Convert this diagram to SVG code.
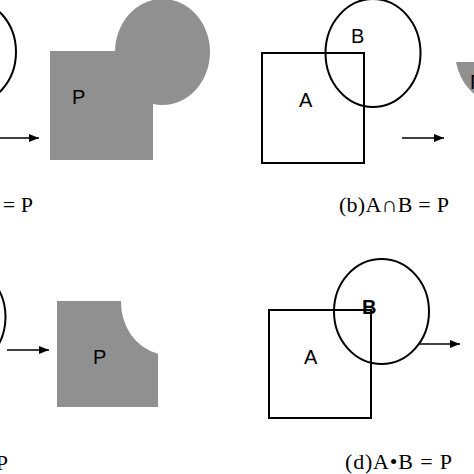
<svg xmlns="http://www.w3.org/2000/svg" width="474" height="474" viewBox="0 0 474 474">
<defs>
<marker id="ah" viewBox="0 0 10 8" refX="10" refY="4" markerWidth="10" markerHeight="8" markerUnits="userSpaceOnUse" orient="auto">
<path d="M0,0 L10,4 L0,8 Z" fill="#000"/>
</marker>
<style>
.outline{fill:none;stroke:#000;stroke-width:2}
.gray{fill:#909090;stroke:none}
.lbl{font-family:"Liberation Sans",Arial,sans-serif;font-size:20px;fill:#000}
.cap{font-family:"Liberation Serif","DejaVu Serif",serif;font-size:22px;fill:#000}
.arrow{stroke:#000;stroke-width:1.6;fill:none;marker-end:url(#ah)}
</style>
</defs>
<rect width="474" height="474" fill="#fff"/>

<g id="panel-a">
<ellipse class="outline" cx="-31.5" cy="52" rx="47.5" ry="53"/>
<g id="result-a">
<rect class="gray" x="50" y="51" width="103" height="109"/>
<ellipse class="gray" cx="162.5" cy="52" rx="47.5" ry="53"/>
<text class="lbl" x="72" y="104">P</text>
</g>
<text class="cap" x="33" y="212" text-anchor="end">= P</text>
</g>

<g id="panel-b">
<rect id="b-A" class="outline" x="262" y="53" width="102" height="110"/>
<ellipse id="b-B" class="outline" cx="373" cy="53" rx="47.5" ry="54"/>
<text class="lbl" x="351" y="43">B</text>
<text class="lbl" x="299" y="107">A</text>
<g id="result-b">
<path class="gray" d="M456,62 L495,62 L495,104 A47.5,54 0 0 1 456,62 Z"/>
<text class="lbl" x="470" y="89">P</text>
</g>
<text class="cap" x="339" y="212" textLength="110" lengthAdjust="spacing">(b)A∩B = P</text>
</g>

<g id="panel-c">
<ellipse class="outline" cx="-42" cy="317" rx="47.5" ry="52.5"/>
<g id="result-c">
<path class="gray" d="M57,301 L121,301 A47.5,52.5 0 0 0 158,353.7 L158,407 L57,407 Z"/>
<text class="lbl" x="93" y="364">P</text>
</g>
<text class="cap" x="8" y="470" text-anchor="end">P</text>
</g>

<g id="panel-d">
<rect id="d-A" class="outline" x="269" y="310" width="102" height="108"/>
<ellipse id="d-B" class="outline" cx="381.5" cy="311.5" rx="47.5" ry="52.5"/>
<text class="lbl" x="362" y="314" style="font-weight:bold">B</text>
<text class="lbl" x="304" y="364">A</text>
<text class="cap" x="345" y="469" textLength="107" lengthAdjust="spacing">(d)A•B = P</text>
</g>

<g id="connectors">
<line class="arrow" x1="0" y1="138" x2="39" y2="138"/>
<line class="arrow" x1="402" y1="138" x2="444" y2="138"/>
<line class="arrow" x1="7" y1="350" x2="49" y2="350"/>
<line class="arrow" x1="419" y1="344" x2="460" y2="344"/>
</g>
</svg>
